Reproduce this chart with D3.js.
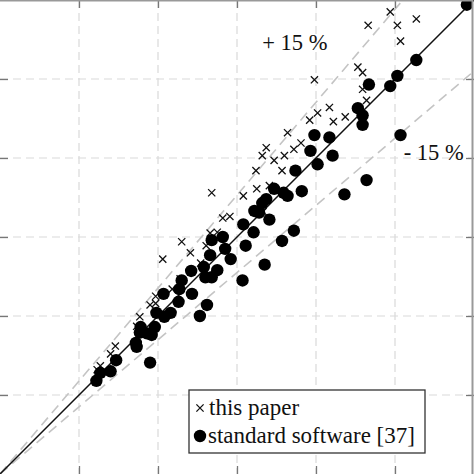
<!DOCTYPE html>
<html>
<head>
<meta charset="utf-8">
<script src="https://cdn.jsdelivr.net/npm/d3@7"></script>
<style>
  html, body { margin: 0; padding: 0; background: #fff; }
  svg { display: block; }
  text { font-family: "Liberation Serif", "Times New Roman", serif; fill: #111; }
</style>
</head>
<body>
<svg id="chart" width="474" height="474"></svg>
<script>
// values (arbitrary units, grid every 1)
const thisPaper = [
	[4.94,5.85],[4.66,5.68],[5.03,5.68],[5.27,5.76],[5.07,5.48],[4.53,5.15],[4.59,5.08],
	[3.98,4.99],[4.59,4.87],[4.64,4.73],[4.17,4.64],[4.02,4.57],[3.92,4.48],[4.22,4.46],
	[4.37,4.52],[3.64,4.32],[3.37,4.13],[3.32,4.03],[3.60,4.03],[3.47,3.97],[3.72,4.11],
	[3.81,4.19],[3.24,3.84],[3.57,3.84],[3.25,3.61],[3.41,3.65],[3.08,3.52],[2.68,3.56],
	[2.82,3.24],[2.91,3.26],[2.66,3.05],[2.75,3.06],[2.30,2.94],[2.41,2.80],[2.06,2.72],
	[2.61,2.89],[2.54,2.67],[2.28,2.47],[2.18,2.34],[1.97,2.25],[1.90,2.14],[1.97,2.16],
	[1.77,1.99],[1.73,1.87],[1.46,1.62],[1.40,1.52],[1.27,1.37],[1.23,1.32],[3.33,3.32]
];

const standardSoftware = [
	[5.91,5.94],[5.27,5.24],[5.03,5.04],[4.94,4.91],[4.67,4.93],[4.53,4.63],[4.59,4.54],
	[4.59,4.42],[5.07,4.29],[3.98,4.29],[4.17,4.26],[3.93,4.09],[4.21,4.03],[4.02,3.92],
	[3.74,3.84],[4.64,3.72],[4.36,3.54],[3.47,3.61],[3.59,3.56],[3.64,3.52],[3.82,3.58],
	[3.37,3.48],[3.32,3.43],[3.22,3.33],[3.28,3.31],[3.41,3.22],[3.08,3.16],[3.21,3.06],
	[3.72,3.08],[3.57,2.95],[3.11,2.89],[2.92,2.72],[3.35,2.65],[3.07,2.45],[2.82,3.00],
	[2.68,2.96],[2.85,2.85],[2.66,2.77],[2.58,2.62],[2.75,2.58],[2.68,2.49],[2.60,2.49],
	[2.42,2.57],[2.30,2.45],[2.27,2.34],[2.43,2.28],[2.07,2.28],[2.26,2.18],[1.98,2.04],
	[2.16,2.04],[2.08,1.99],[2.53,2.00],[2.62,2.14],[1.96,1.86],[1.78,1.86],[1.77,1.79],
	[1.86,1.78],[1.92,1.76],[1.72,1.66],[1.73,1.61],[1.47,1.44],[1.90,1.41],[1.40,1.30],
	[1.27,1.28],[1.22,1.18]
];

const ticks = [1, 2, 3, 4, 5];
const bands = [
	{factor: 1 / 0.85, label: '+ 15 %', lx: 3.32, ly: 5.37},
	{factor: 0.85, label: '- 15 %', lx: 5.11, ly: 3.97}
];
const legendItems = [
	{label: 'this paper', symbol: 'cross'},
	{label: 'standard software [37]', symbol: 'dot'}
];

const width = 474;
const height = 474;
const svg = d3.select('#chart');

const x = d3.scaleLinear().domain([0, 6]).range([0, width]);
const y = d3.scaleLinear().domain([0, 6]).range([height, 0]);

// grid
const grid = svg.append('g').attr('class', 'grid');
grid.selectAll('line.gx')
	.data(ticks)
	.join('line')
	.attr('class', 'gx')
	.attr('x1', d => x(d)).attr('x2', d => x(d))
	.attr('y1', 0).attr('y2', height);
grid.selectAll('line.gy')
	.data(ticks)
	.join('line')
	.attr('class', 'gy')
	.attr('x1', 0).attr('x2', width)
	.attr('y1', d => y(d)).attr('y2', d => y(d));
grid.selectAll('line')
	.attr('stroke', '#d9d9d9')
	.attr('stroke-width', 1.2)
	.attr('stroke-dasharray', '8,5');

// +/- 15 % lines
svg.append('g')
	.selectAll('line')
	.data(bands)
	.join('line')
	.attr('x1', x(0)).attr('y1', y(0))
	.attr('x2', d => x(Math.min(6, 6 / d.factor)))
	.attr('y2', d => y(Math.min(6, 6 * d.factor)))
	.attr('stroke', '#c4c4c4')
	.attr('stroke-width', 1.6)
	.attr('stroke-dasharray', '10,6');

svg.append('g')
	.selectAll('text')
	.data(bands)
	.join('text')
	.attr('x', d => x(d.lx))
	.attr('y', d => y(d.ly))
	.attr('font-size', 22.5)
	.text(d => d.label);

// y = x
svg.append('line')
	.attr('x1', x(0)).attr('y1', y(0))
	.attr('x2', x(6)).attr('y2', y(6))
	.attr('stroke', '#111')
	.attr('stroke-width', 1.5);

// points
svg.append('g')
	.selectAll('path')
	.data(thisPaper)
	.join('path')
	.attr('transform', d => `translate(${x(d[0])},${y(d[1])})`)
	.attr('d', 'M-3.6,-3.6L3.6,3.6M-3.6,3.6L3.6,-3.6')
	.attr('stroke', '#111')
	.attr('stroke-width', 1.3)
	.attr('fill', 'none');

svg.append('g')
	.selectAll('circle')
	.data(standardSoftware)
	.join('circle')
	.attr('cx', d => x(d[0]))
	.attr('cy', d => y(d[1]))
	.attr('r', 6.2)
	.attr('fill', '#000');

// axes with inward ticks on all four sides
const tickLen = 8;
svg.append('g').call(d3.axisLeft(y).tickValues(ticks).tickSize(-tickLen).tickFormat(''));
svg.append('g').attr('transform', `translate(${width},0)`)
	.call(d3.axisRight(y).tickValues(ticks).tickSize(-tickLen).tickFormat(''));
svg.append('g').call(d3.axisTop(x).tickValues(ticks).tickSize(-tickLen).tickFormat(''));
svg.append('g').attr('transform', `translate(0,${height})`)
	.call(d3.axisBottom(x).tickValues(ticks).tickSize(-tickLen).tickFormat(''));
svg.selectAll('.domain').remove();
svg.selectAll('.tick line').attr('stroke', '#777').attr('stroke-width', 1.3);

// frame (left and bottom edges fall just outside the crop)
svg.append('rect')
	.attr('x', -2).attr('y', 0.5)
	.attr('width', width + 0.5).attr('height', height + 2)
	.attr('fill', 'none')
	.attr('stroke', '#999')
	.attr('stroke-width', 2);

// legend
const legend = svg.append('g').attr('transform', 'translate(189,390)');
legend.append('rect')
	.attr('width', 236).attr('height', 63)
	.attr('fill', '#fff')
	.attr('stroke', '#333')
	.attr('stroke-width', 1.3);

const rows = legend.selectAll('g.row')
	.data(legendItems)
	.join('g')
	.attr('class', 'row')
	.attr('transform', (d, i) => `translate(11,${18 + i * 28})`);

rows.filter(d => d.symbol === 'cross')
	.append('path')
	.attr('d', 'M-3.6,-3.6L3.6,3.6M-3.6,3.6L3.6,-3.6')
	.attr('stroke', '#111')
	.attr('stroke-width', 1.3);
rows.filter(d => d.symbol === 'dot')
	.append('circle')
	.attr('r', 6.2)
	.attr('fill', '#000');

rows.append('text')
	.attr('x', d => d.symbol === 'cross' ? 9 : 8)
	.attr('y', 7)
	.attr('font-size', 23)
	.text(d => d.label);
</script>
</body>
</html>
